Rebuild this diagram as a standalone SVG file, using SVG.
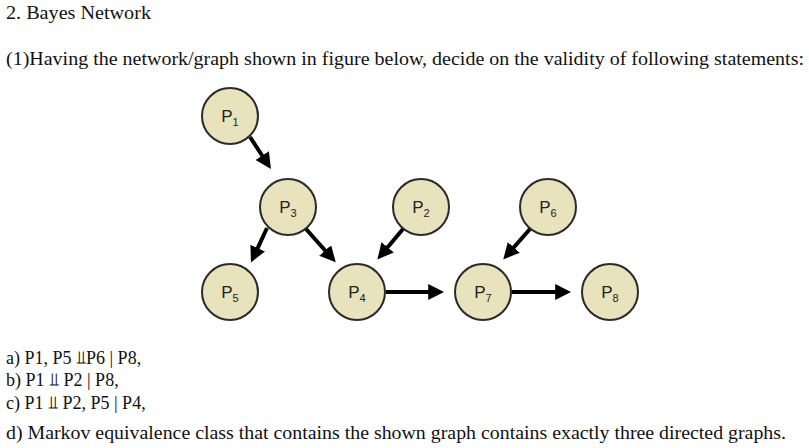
<svg xmlns="http://www.w3.org/2000/svg" width="809" height="448" viewBox="0 0 809 448">
<style>
.t{font-family:"Liberation Serif","DejaVu Serif",serif;font-size:18px;fill:#111}
.n circle{fill:#e8e2bd;stroke:#2a2a2a;stroke-width:2}
.n text{font-family:"Liberation Sans",Arial,sans-serif;font-size:17px;fill:#222;text-anchor:middle}
.n tspan{font-size:11px}
.e line{stroke:#000;stroke-width:4;marker-end:url(#a)}
</style>
<defs><marker id="a" markerWidth="4" markerHeight="4" refX="2.2" refY="2" orient="auto"><path d="M0,0L4,2L0,4Z" fill="#000"/></marker></defs>
<rect width="809" height="448" fill="#fff"/>
<text class="t" x="6" y="19" textLength="145" lengthAdjust="spacingAndGlyphs">2. Bayes Network</text>
<text class="t" x="6" y="65" textLength="798" lengthAdjust="spacingAndGlyphs">(1)Having the network/graph shown in figure below, decide on the validity of following statements:</text>
<g class="e">
<line x1="250" y1="137" x2="267" y2="163"/>
<line x1="267" y1="228" x2="254" y2="256"/>
<line x1="306" y1="229" x2="331" y2="257"/>
<line x1="403" y1="229" x2="382" y2="254"/>
<line x1="530" y1="229" x2="508" y2="254"/>
<line x1="386" y1="292" x2="437" y2="292"/>
<line x1="512" y1="292" x2="564" y2="292"/>
</g>
<g id="P1" class="n"><circle cx="230" cy="116" r="28"/><text x="230" y="122">P<tspan dy="4">1</tspan></text></g>
<g id="P3" class="n"><circle cx="288" cy="207" r="28"/><text x="288" y="213">P<tspan dy="4">3</tspan></text></g>
<g id="P2" class="n"><circle cx="421" cy="207" r="28"/><text x="421" y="213">P<tspan dy="4">2</tspan></text></g>
<g id="P6" class="n"><circle cx="548" cy="207" r="28"/><text x="548" y="213">P<tspan dy="4">6</tspan></text></g>
<g id="P5" class="n"><circle cx="230" cy="292" r="28"/><text x="230" y="298">P<tspan dy="4">5</tspan></text></g>
<g id="P4" class="n"><circle cx="357" cy="292" r="28"/><text x="357" y="298">P<tspan dy="4">4</tspan></text></g>
<g id="P7" class="n"><circle cx="483" cy="292" r="28"/><text x="483" y="298">P<tspan dy="4">7</tspan></text></g>
<g id="P8" class="n"><circle cx="610" cy="292" r="28"/><text x="610" y="298">P<tspan dy="4">8</tspan></text></g>
<text class="t" x="6" y="364">a) P1, P5 ⫫P6 | P8,</text>
<text class="t" x="6" y="386">b) P1 ⫫ P2 | P8,</text>
<text class="t" x="6" y="409">c) P1 ⫫ P2, P5 | P4,</text>
<text class="t" x="6" y="439" textLength="780" lengthAdjust="spacingAndGlyphs">d) Markov equivalence class that contains the shown graph contains exactly three directed graphs.</text>
</svg>
